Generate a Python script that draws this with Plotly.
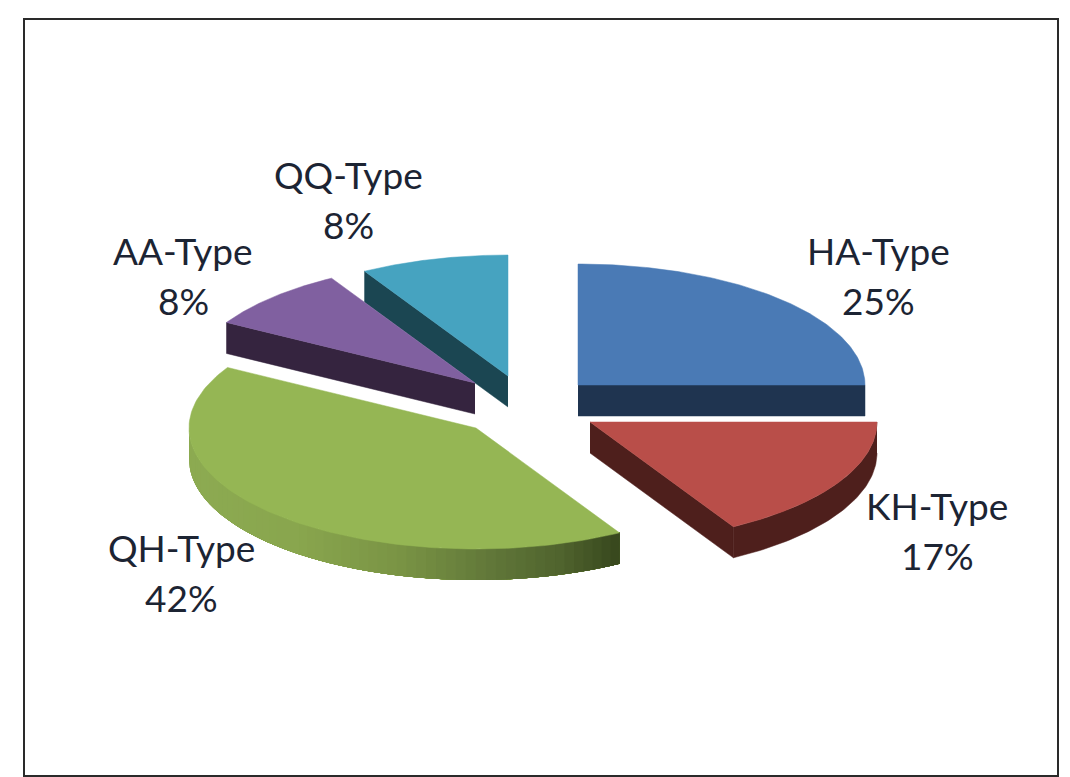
import numpy as np
import plotly.graph_objects as go

categories = ["HA-Type", "KH-Type", "QH-Type", "AA-Type", "QQ-Type"]
values = [25, 16.67, 41.67, 8.33, 8.33]

# styling / layout, one entry per slice
top_colors = ["#4a7ab5", "#b94e49", "#95b654", "#8060a0", "#46a3c0"]
wall_colors = ["#1f3450", "#4e1f1c", None, "#35243f", "#1b4652"]
explode_dx = [48, 60, -54, -55, -22]
explode_dy = [-18, 19, 25, -20, -27]
label_x = [878, 937, 181, 183, 348]
label_y = [250, 505, 547, 250, 174]
draw_order = [4, 3, 0, 2, 1]

CX, CY = 530, 403
RX, RY = 287, 121
DEPTH = 31
LINE_GAP = 50
GRAD_STOPS = [(188, (141, 171, 82)), (300, (137, 166, 78)), (400, (122, 148, 69)),
              (500, (95, 117, 56)), (560, (80, 100, 46)), (618, (56, 72, 30))]

fig = go.Figure()


def rim(ax, ay, deg):
    t = np.radians(deg)
    return ax + RX * np.sin(t), ay - RY * np.cos(t)


def poly(xs, ys, color, lw=0.5):
    fig.add_trace(go.Scatter(x=list(xs), y=list(ys), mode="lines", fill="toself",
                             fillcolor=color, line=dict(width=lw, color=color),
                             hoverinfo="skip", showlegend=False))


def grad_color(x):
    px = [s[0] for s in GRAD_STOPS]
    rgb = [np.interp(x, px, [s[1][i] for s in GRAD_STOPS]) for i in range(3)]
    return "rgb(%d,%d,%d)" % tuple(rgb)


def outer_wall(ax, ay, a0, a1, color):
    lo, hi = max(a0, 90), min(a1, 270)
    if hi <= lo:
        return
    if color is None:
        # painted from the far end towards the near end; each band covers the rest
        edges = np.linspace(lo, hi, 61)
        for i in range(60, 0, -1):
            d = np.linspace(lo, edges[i], i + 2)
            x, y = rim(ax, ay, d)
            band_x = rim(ax, ay, (edges[i - 1] + edges[i]) / 2)[0]
            poly(np.r_[x, x[::-1]], np.r_[y, y[::-1] + DEPTH], grad_color(band_x), lw=0)
    else:
        d = np.linspace(lo, hi, 60)
        x, y = rim(ax, ay, d)
        poly(np.r_[x, x[::-1]], np.r_[y, y[::-1] + DEPTH], color)


def cut_wall(ax, ay, deg, color):
    x, y = rim(ax, ay, deg)
    poly([ax, x, x, ax], [ay, y, y + DEPTH, ay + DEPTH], color)


total = sum(values)
cum = np.cumsum([0] + values)
for i in draw_order:
    a0 = 360 * cum[i] / total
    a1 = 360 * cum[i + 1] / total
    ax, ay = CX + explode_dx[i], CY + explode_dy[i]
    wall = wall_colors[i]
    if 270 < a0 < 360:
        cut_wall(ax, ay, a0, wall)
    if 0 < a1 < 180:
        cut_wall(ax, ay, a1, wall)
    outer_wall(ax, ay, a0, a1, wall)
    d = np.linspace(a0, a1, 120)
    x, y = rim(ax, ay, d)
    poly(np.r_[ax, x, ax], np.r_[ay, y, ay], top_colors[i])

for name, v, lx, ly in zip(categories, values, label_x, label_y):
    fig.add_annotation(x=lx, y=ly, text=name, showarrow=False, xanchor="center", yanchor="middle")
    fig.add_annotation(x=lx, y=ly + LINE_GAP, text=f"{v:.0f}%", showarrow=False, xanchor="center", yanchor="middle")

fig.add_shape(type="rect", x0=24, y0=19, x1=1058, y1=776, line=dict(color="#2a2a2a", width=2), layer="below")

fig.update_layout(
    width=1070, height=777, margin=dict(l=0, r=0, t=0, b=0),
    paper_bgcolor="white", plot_bgcolor="white", showlegend=False,
    font=dict(family="Lato", size=37, color="#1c2433"),
    xaxis=dict(range=[0, 1070], visible=False, fixedrange=True),
    yaxis=dict(range=[777, 0], visible=False, fixedrange=True),
)
fig.write_html("out.html", config=dict(displayModeBar=False),
               post_script="document.body.style.margin='0';document.body.style.overflow='hidden';")
